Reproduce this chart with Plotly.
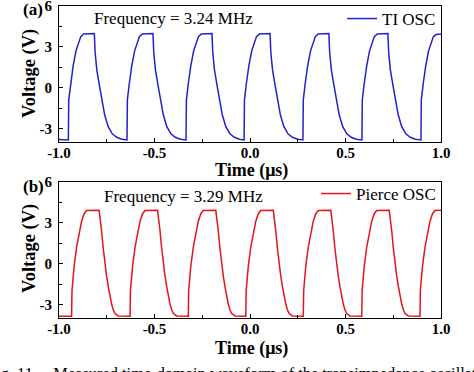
import plotly.graph_objects as go

# ---------------- data ----------------
# (a) Transimpedance (TI) oscillator, time in microseconds, voltage in V
ti_time = [
    -1.000,
    -0.951, -0.949, -0.939, -0.926, -0.911, -0.899, -0.886, -0.871, -0.815, -0.811, -0.802, -0.789, -0.776, -0.761, -0.743, -0.721, -0.698, -0.671,
    -0.644, -0.642, -0.632, -0.619, -0.604, -0.592, -0.579, -0.564, -0.508, -0.504, -0.495, -0.482, -0.469, -0.454, -0.436, -0.414, -0.391, -0.364,
    -0.335, -0.333, -0.323, -0.310, -0.295, -0.283, -0.270, -0.255, -0.199, -0.195, -0.186, -0.173, -0.160, -0.145, -0.127, -0.105, -0.082, -0.055,
    -0.031, -0.029, -0.019, -0.006, 0.009, 0.021, 0.034, 0.049, 0.105, 0.109, 0.118, 0.131, 0.144, 0.159, 0.177, 0.199, 0.222, 0.249,
    0.277, 0.279, 0.289, 0.302, 0.317, 0.329, 0.342, 0.357, 0.413, 0.417, 0.426, 0.439, 0.452, 0.467, 0.485, 0.507, 0.530, 0.557,
    0.586, 0.588, 0.598, 0.611, 0.626, 0.638, 0.651, 0.666, 0.722, 0.726, 0.735, 0.748, 0.761, 0.776, 0.794, 0.816, 0.839, 0.866,
    0.895, 0.897, 0.907, 0.920, 0.935, 0.947, 0.960, 0.975, 1.000,
]
ti_voltage = [
    -3.82,
    -3.85, -0.9, 0.3, 1.6, 2.7, 3.3, 3.75, 3.95, 3.97, 2.6, 1.3, 0.2, -0.9, -2.0, -2.85, -3.4, -3.65, -3.8,
    -3.85, -0.9, 0.3, 1.6, 2.7, 3.3, 3.75, 3.95, 3.97, 2.6, 1.3, 0.2, -0.9, -2.0, -2.85, -3.4, -3.65, -3.8,
    -3.85, -0.9, 0.3, 1.6, 2.7, 3.3, 3.75, 3.95, 3.97, 2.6, 1.3, 0.2, -0.9, -2.0, -2.85, -3.4, -3.65, -3.8,
    -3.85, -0.9, 0.3, 1.6, 2.7, 3.3, 3.75, 3.95, 3.97, 2.6, 1.3, 0.2, -0.9, -2.0, -2.85, -3.4, -3.65, -3.8,
    -3.85, -0.9, 0.3, 1.6, 2.7, 3.3, 3.75, 3.95, 3.97, 2.6, 1.3, 0.2, -0.9, -2.0, -2.85, -3.4, -3.65, -3.8,
    -3.85, -0.9, 0.3, 1.6, 2.7, 3.3, 3.75, 3.95, 3.97, 2.6, 1.3, 0.2, -0.9, -2.0, -2.85, -3.4, -3.65, -3.8,
    -3.85, -0.9, 0.3, 1.6, 2.7, 3.3, 3.75, 3.9, 3.95,
]

# (b) Pierce oscillator
pierce_time = [
    -1.000,
    -0.934, -0.932, -0.921, -0.908, -0.895, -0.882, -0.869, -0.856, -0.790, -0.784, -0.777, -0.769, -0.760, -0.751, -0.742, -0.734, -0.725, -0.716, -0.707, -0.690,
    -0.628, -0.626, -0.615, -0.602, -0.589, -0.576, -0.563, -0.550, -0.484, -0.478, -0.471, -0.463, -0.454, -0.445, -0.436, -0.428, -0.419, -0.410, -0.401, -0.384,
    -0.323, -0.321, -0.310, -0.297, -0.284, -0.271, -0.258, -0.245, -0.179, -0.173, -0.166, -0.158, -0.149, -0.140, -0.131, -0.123, -0.114, -0.105, -0.096, -0.079,
    -0.022, -0.020, -0.009, 0.004, 0.017, 0.030, 0.043, 0.056, 0.122, 0.128, 0.135, 0.143, 0.152, 0.161, 0.170, 0.178, 0.187, 0.196, 0.205, 0.222,
    0.279, 0.281, 0.292, 0.305, 0.318, 0.331, 0.344, 0.357, 0.423, 0.429, 0.436, 0.444, 0.453, 0.462, 0.471, 0.479, 0.488, 0.497, 0.506, 0.523,
    0.585, 0.587, 0.598, 0.611, 0.624, 0.637, 0.650, 0.663, 0.729, 0.735, 0.742, 0.750, 0.759, 0.768, 0.777, 0.785, 0.794, 0.803, 0.812, 0.829,
    0.890, 0.892, 0.903, 0.916, 0.929, 0.942, 0.955, 0.968, 1.000,
]
pierce_voltage = [
    -3.87,
    -3.87, -2.0, -0.2, 1.2, 2.3, 3.1, 3.65, 3.9, 3.92, 3.3, 2.4, 1.2, 0.0, -0.9, -1.7, -2.4, -2.95, -3.4, -3.67, -3.85,
    -3.87, -2.0, -0.2, 1.2, 2.3, 3.1, 3.65, 3.9, 3.92, 3.3, 2.4, 1.2, 0.0, -0.9, -1.7, -2.4, -2.95, -3.4, -3.67, -3.85,
    -3.87, -2.0, -0.2, 1.2, 2.3, 3.1, 3.65, 3.9, 3.92, 3.3, 2.4, 1.2, 0.0, -0.9, -1.7, -2.4, -2.95, -3.4, -3.67, -3.85,
    -3.87, -2.0, -0.2, 1.2, 2.3, 3.1, 3.65, 3.9, 3.92, 3.3, 2.4, 1.2, 0.0, -0.9, -1.7, -2.4, -2.95, -3.4, -3.67, -3.85,
    -3.87, -2.0, -0.2, 1.2, 2.3, 3.1, 3.65, 3.9, 3.92, 3.3, 2.4, 1.2, 0.0, -0.9, -1.7, -2.4, -2.95, -3.4, -3.67, -3.85,
    -3.87, -2.0, -0.2, 1.2, 2.3, 3.1, 3.65, 3.9, 3.92, 3.3, 2.4, 1.2, 0.0, -0.9, -1.7, -2.4, -2.95, -3.4, -3.67, -3.85,
    -3.87, -2.0, -0.2, 1.2, 2.3, 3.1, 3.65, 3.9, 3.92,
]

x_tick_vals = [-1.0, -0.5, 0.0, 0.5, 1.0]
x_tick_text = ["-1.0", "-0.5", "0.0", "0.5", "1.0"]
y_tick_vals = [-3, 0, 3, 6]
y_tick_text = ["-3", "0", "3", "6"]

series_names = ["TI OSC", "Pierce OSC"]
freq_labels = ["Frequency = 3.24 MHz", "Frequency = 3.29 MHz"]
panel_labels = ["(a)", "(b)"]
x_title = "Time (μs)"
y_title = "Voltage (V)"
caption = "Fig. 11.\u00a0\u00a0\u00a0 Measured time-domain waveform of the transimpedance oscillator"

# ---------------- figure ----------------
W, H = 474, 372
SERIF = "Liberation Serif, Times New Roman, serif"
BLUE = "#2121cf"
RED = "#e3141b"

x_dom = [59 / W, 441 / W]
y_dom_top = [(H - 142) / H, (H - 6) / H]
y_dom_bot = [(H - 318) / H, (H - 182) / H]

fig = go.Figure()
fig.add_trace(go.Scatter(x=ti_time, y=ti_voltage, mode="lines", name=series_names[0], showlegend=True,
                         line=dict(color=BLUE, width=1.5), xaxis="x", yaxis="y", legend="legend"))
fig.add_trace(go.Scatter(x=pierce_time, y=pierce_voltage, mode="lines", name=series_names[1], showlegend=True,
                         line=dict(color=RED, width=1.5), xaxis="x2", yaxis="y2", legend="legend2"))

def xaxis(domain, anchor):
    return dict(domain=domain, anchor=anchor, range=[-1.0, 1.0], automargin=False,
                tickmode="array", tickvals=x_tick_vals, ticktext=x_tick_text,
                ticks="inside", ticklen=4, tickwidth=1, tickcolor="black",
                minor=dict(ticks="inside", tickmode="linear", tick0=0, dtick=0.25, ticklen=3, tickcolor="black"),
                showline=True, linecolor="black", linewidth=1.2, mirror=True,
                showgrid=False, zeroline=False, ticklabelstandoff=-3, ticklabeloverflow="allow",
                tickfont=dict(family=SERIF, size=15, color="black", weight="bold"))

def yaxis(domain, anchor):
    return dict(domain=domain, anchor=anchor, range=[-4, 6], automargin=False,
                tickmode="array", tickvals=y_tick_vals, ticktext=y_tick_text,
                ticks="inside", ticklen=4, tickwidth=1, tickcolor="black",
                minor=dict(ticks="inside", tickmode="linear", tick0=0, dtick=1.5, ticklen=3, tickcolor="black"),
                showline=True, linecolor="black", linewidth=1.2, mirror=True,
                showgrid=False, zeroline=False, ticklabelstandoff=3, ticklabeloverflow="allow",
                tickfont=dict(family=SERIF, size=15, color="black", weight="bold"))

legend_common = dict(xanchor="right", yanchor="middle", bgcolor="rgba(0,0,0,0)", borderwidth=0,
                     font=dict(family=SERIF, size=17, color="black"), tracegroupgap=0,
                     itemwidth=30, visible=True)

def txt(text, x, y, size=17, bold=False, angle=0, xanchor="center", yanchor="middle"):
    return dict(text=text, x=x / W, y=(H - y) / H, xref="paper", yref="paper",
                showarrow=False, xanchor=xanchor, yanchor=yanchor, textangle=angle,
                font=dict(family=SERIF, size=size, color="black", weight="bold" if bold else "normal"))

fig.update_layout(
    width=W, height=H, margin=dict(l=0, r=0, t=0, b=0),
    paper_bgcolor="white", plot_bgcolor="white", showlegend=True,
    xaxis=xaxis(x_dom, "y"), yaxis=yaxis(y_dom_top, "x"),
    xaxis2=xaxis(x_dom, "y2"), yaxis2=yaxis(y_dom_bot, "x2"),
    legend=dict(x=441 / W, y=(H - 19) / H, **legend_common),
    legend2=dict(x=441 / W, y=(H - 194) / H, **legend_common),
    annotations=[
        txt(freq_labels[0], (95 + 252) / 2, 19),
        txt(freq_labels[1], (105 + 262) / 2, 196),
        txt(panel_labels[0], 21, 10, size=17, bold=True, xanchor="left"),
        txt(panel_labels[1], 21, 186, size=17, bold=True, xanchor="left"),
        txt(x_title, 252, 170, size=18, bold=True),
        txt(x_title, 252, 348, size=18, bold=True),
        txt(y_title, 29, 74, size=18.5, bold=True, angle=-90),
        txt(y_title, 29, 249, size=18.5, bold=True, angle=-90),
        txt(caption, -15, 362, size=16.4, xanchor="left", yanchor="top"),
    ],
)

fig.write_html("out.html", config={"displayModeBar": False},
               post_script="document.body.style.margin='0';document.body.style.overflow='hidden';")
